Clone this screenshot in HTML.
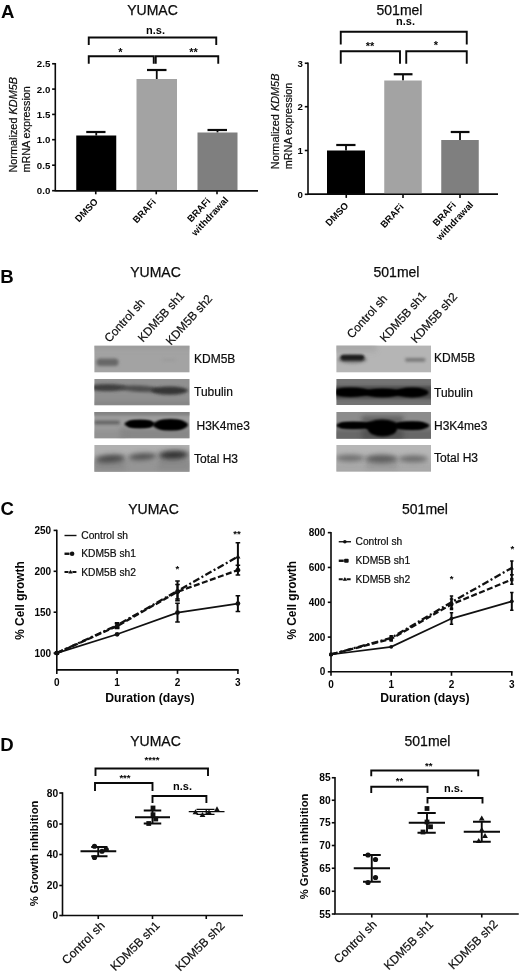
<!DOCTYPE html>
<html><head><meta charset="utf-8"><title>Figure</title>
<style>
html,body{margin:0;padding:0;background:#fff;}
body{width:520px;height:976px;overflow:hidden;}
svg{display:block;filter:blur(0.4px);font-family:"Liberation Sans",sans-serif;fill:#1a1a1a;}
.b{font-weight:bold}
.pl{font-size:18.6px;font-weight:bold;fill:#050505}
.tt{font-size:14px;text-anchor:middle;fill:#0a0a0a;stroke:#0a0a0a;stroke-width:.25}
.ax{stroke:#0a0a0a;stroke-width:1.6;fill:none}
.br{stroke:#0a0a0a;stroke-width:1.9;fill:none}
.tk{font-size:9.7px;font-weight:bold;text-anchor:end;fill:#050505}
.tkm{font-size:10px;font-weight:bold;text-anchor:middle;fill:#050505}
.st{font-size:11px;font-weight:bold;text-anchor:middle;fill:#050505}
.st2{font-size:9.6px;font-weight:bold;text-anchor:middle;fill:#050505}
</style></head><body>
<svg width="520" height="976" viewBox="0 0 520 976">
<defs>
<filter id="b1" x="-30%" y="-150%" width="160%" height="400%"><feGaussianBlur stdDeviation="1.2"/></filter>
<filter id="b2" x="-30%" y="-150%" width="160%" height="400%"><feGaussianBlur stdDeviation="1.8"/></filter>
<filter id="b3" x="-30%" y="-150%" width="160%" height="400%"><feGaussianBlur stdDeviation="2.5"/></filter>
</defs>
<rect width="520" height="976" fill="#fff"/>

<text x="152.5" y="15" class="tt" >YUMAC</text>
<path class="ax" d="M55.3 63.0V190.7H258"/>
<path class="ax" d="M52.099999999999994 63.75H55.3"/>
<text x="50.3" y="67.35" class="tk" >2.5</text>
<path class="ax" d="M52.099999999999994 89.1H55.3"/>
<text x="50.3" y="92.69999999999999" class="tk" >2.0</text>
<path class="ax" d="M52.099999999999994 114.4H55.3"/>
<text x="50.3" y="118.0" class="tk" >1.5</text>
<path class="ax" d="M52.099999999999994 139.7H55.3"/>
<text x="50.3" y="143.29999999999998" class="tk" >1.0</text>
<path class="ax" d="M52.099999999999994 165.2H55.3"/>
<text x="50.3" y="168.79999999999998" class="tk" >0.5</text>
<path class="ax" d="M52.099999999999994 190.7H55.3"/>
<text x="50.3" y="194.29999999999998" class="tk" >0.0</text>
<path class="ax" d="M96.25 135.5V132" style="stroke-width:1.8"/><path class="ax" d="M86.25 132H105.5" style="stroke-width:2.2"/>
<rect x="76.25" y="135.5" width="40.0" height="55.19999999999999" fill="#000"/>
<path class="ax" d="M156.75 79V70" style="stroke-width:1.8"/><path class="ax" d="M147 70H166.5" style="stroke-width:2.2"/>
<rect x="136.5" y="79" width="40.5" height="111.69999999999999" fill="#a3a3a3"/>
<path class="ax" d="M217.5 132.5V130" style="stroke-width:1.8"/><path class="ax" d="M207.5 130H227" style="stroke-width:2.2"/>
<rect x="197.5" y="132.5" width="40.0" height="58.19999999999999" fill="#7f7f7f"/>
<path class="ax" d="M55.3 190.7H258"/>
<path class="ax" d="M95.75 190.7V194.29999999999998"/>
<path class="ax" d="M156.25 190.7V194.29999999999998"/>
<path class="ax" d="M217 190.7V194.29999999999998"/>
<text transform="translate(17.3 172.6) rotate(-90)" style="font-size:10.9px;fill:#0d0d0d;stroke:#0d0d0d;stroke-width:.2">Normalized <tspan font-style="italic">KDM5B</tspan></text>
<text transform="translate(30 172.6) rotate(-90)" style="font-size:10.8px;fill:#0d0d0d;stroke:#0d0d0d;stroke-width:.2">mRNA expression</text>
<path class="br" d="M88.75 45V37.5H216.25V45"/>
<path class="br" d="M88.75 63.75V56.25H153.75V63.75"/>
<path class="br" d="M155.75 63.75V56.25H218.25V63.75"/>
<text x="155.5" y="33.75" class="st" >n.s.</text>
<text x="120.5" y="55.5" class="st" >*</text>
<text x="193.5" y="56" class="st" >**</text>
<text transform="translate(98.5 202) rotate(-47)" text-anchor="end" class="b" style="font-size:9.5px;fill:#050505">DMSO</text>
<text transform="translate(156.5 202.5) rotate(-47)" text-anchor="end" class="b" style="font-size:9.5px;fill:#050505">BRAFi</text>
<text transform="translate(211 201.5) rotate(-47)" text-anchor="end" class="b" style="font-size:9.5px;fill:#050505">BRAFi</text>
<text transform="translate(229 200.5) rotate(-47)" text-anchor="end" class="b" style="font-size:9.5px;fill:#050505">withdrawal</text>
<text x="399.5" y="14.5" class="tt" >501mel</text>
<path class="ax" d="M308 62.5V194.3H498"/>
<path class="ax" d="M304.8 63.25H308"/>
<text x="303" y="66.85" class="tk" >3</text>
<path class="ax" d="M304.8 106.7H308"/>
<text x="303" y="110.3" class="tk" >2</text>
<path class="ax" d="M304.8 150.5H308"/>
<text x="303" y="154.1" class="tk" >1</text>
<path class="ax" d="M304.8 194.3H308"/>
<text x="303" y="197.9" class="tk" >0</text>
<path class="ax" d="M346.0 150.5V145" style="stroke-width:1.8"/><path class="ax" d="M336.25 145H355.5" style="stroke-width:2.2"/>
<rect x="327" y="150.5" width="38" height="43.80000000000001" fill="#000"/>
<path class="ax" d="M403.0 80.5V74.25" style="stroke-width:1.8"/><path class="ax" d="M393.75 74.25H412.5" style="stroke-width:2.2"/>
<rect x="384.25" y="80.5" width="37.5" height="113.80000000000001" fill="#a3a3a3"/>
<path class="ax" d="M460.0 140V132" style="stroke-width:1.8"/><path class="ax" d="M450.75 132H469.5" style="stroke-width:2.2"/>
<rect x="441.25" y="140" width="37.5" height="54.30000000000001" fill="#7f7f7f"/>
<path class="ax" d="M308 194.3H498"/>
<path class="ax" d="M346.25 194.3V197.9"/>
<path class="ax" d="M403 194.3V197.9"/>
<path class="ax" d="M460 194.3V197.9"/>
<text transform="translate(278.7 169.2) rotate(-90)" style="font-size:10.9px;fill:#0d0d0d;stroke:#0d0d0d;stroke-width:.2">Normalized <tspan font-style="italic">KDM5B</tspan></text>
<text transform="translate(292 169.2) rotate(-90)" style="font-size:10.8px;fill:#0d0d0d;stroke:#0d0d0d;stroke-width:.2">mRNA expression</text>
<path class="br" d="M340.75 44.5V31.75H466.75V44.5"/>
<path class="br" d="M340.75 63.75V51.25H400V63.75"/>
<path class="br" d="M406.25 63.75V51.25H466.75V63.75"/>
<text x="405.5" y="25" class="st" >n.s.</text>
<text x="370" y="49.8" class="st" >**</text>
<text x="436" y="49" class="st" >*</text>
<text transform="translate(349 206) rotate(-47)" text-anchor="end" class="b" style="font-size:9.5px;fill:#050505">DMSO</text>
<text transform="translate(404.2 207.2) rotate(-47)" text-anchor="end" class="b" style="font-size:9.5px;fill:#050505">BRAFi</text>
<text transform="translate(456.5 205.5) rotate(-47)" text-anchor="end" class="b" style="font-size:9.5px;fill:#050505">BRAFi</text>
<text transform="translate(473.8 205.2) rotate(-47)" text-anchor="end" class="b" style="font-size:9.5px;fill:#050505">withdrawal</text>
<text x="1" y="18.2" class="pl" >A</text>
<text x="0.2" y="282.6" class="pl" >B</text>
<text x="0.5" y="514.9" class="pl" >C</text>
<text x="0.2" y="750.6" class="pl" >D</text>
<text x="155.5" y="277" class="tt" >YUMAC</text>
<text transform="translate(145.5 303) rotate(-48)" text-anchor="end" style="font-size:11.8px;fill:#0d0d0d;stroke:#0d0d0d;stroke-width:.2">Control sh</text>
<text transform="translate(185 296) rotate(-48)" text-anchor="end" style="font-size:11.8px;fill:#0d0d0d;stroke:#0d0d0d;stroke-width:.2">KDM5B sh1</text>
<text transform="translate(213 299) rotate(-48)" text-anchor="end" style="font-size:11.8px;fill:#0d0d0d;stroke:#0d0d0d;stroke-width:.2">KDM5B sh2</text>
<clipPath id="cb1"><rect x="94.4" y="345.7" width="95.1" height="26.6"/></clipPath>
<rect x="94.4" y="345.7" width="95.1" height="26.6" fill="#a3a3a3"/>
<g clip-path="url(#cb1)">
<rect x="89.4" y="343" width="105.1" height="6" fill="#9a9a9a" opacity="0.7" filter="url(#b3)"/>
<rect x="96.5" y="358.6" width="22.0" height="7.4" rx="3.5" fill="#686868" opacity="1" filter="url(#b2)"/>
<rect x="162" y="358.0" width="14" height="4" rx="2.0" fill="#9c9c9c" opacity="0.8" filter="url(#b2)"/>
</g>
<clipPath id="cb2"><rect x="94.4" y="379" width="95.1" height="26.2"/></clipPath>
<rect x="94.4" y="379" width="95.1" height="26.2" fill="#909090"/>
<g clip-path="url(#cb2)">
<ellipse cx="107.5" cy="387.6" rx="19.5" ry="3.7" fill="#404040" opacity="1" filter="url(#b2)"/>
<ellipse cx="140.0" cy="388.8" rx="20.0" ry="3.2" fill="#4e4e4e" opacity="1" filter="url(#b2)" transform="rotate(3 140.0 388.8)"/>
<ellipse cx="169.5" cy="390.6" rx="18.5" ry="4.1" fill="#363636" opacity="1" filter="url(#b2)"/>
<rect x="89.4" y="401" width="105.1" height="7" fill="#808080" opacity="0.6" filter="url(#b3)"/>
</g>
<clipPath id="cb3"><rect x="94.4" y="412" width="95.1" height="26.3"/></clipPath>
<rect x="94.4" y="412" width="95.1" height="26.3" fill="#9d9d9d"/>
<g clip-path="url(#cb3)">
<rect x="89.4" y="409" width="105.1" height="6.5" fill="#808080" opacity="0.9" filter="url(#b1)"/>
<rect x="120" y="428" width="72" height="13" fill="#777" opacity="0.55" filter="url(#b3)"/>
<rect x="90" y="430" width="35" height="11" fill="#888" opacity="0.5" filter="url(#b3)"/>
<rect x="94" y="420.7" width="26" height="3.6" rx="1.8" fill="#5a5a5a" opacity="0.95" filter="url(#b2)"/>
<ellipse cx="139.75" cy="424" rx="15.25" ry="4.2" fill="#000" opacity="1" filter="url(#b1)"/>
<rect x="128" y="421.0" width="24" height="6" rx="3.0" fill="#000" opacity="1" filter="url(#b1)"/>
<ellipse cx="170.5" cy="424.8" rx="17.5" ry="5.8" fill="#000" opacity="1" filter="url(#b1)"/>
<rect x="158" y="420.8" width="25" height="8" rx="4.0" fill="#000" opacity="1" filter="url(#b1)"/>
</g>
<clipPath id="cb4"><rect x="94.4" y="445" width="95.1" height="26.8"/></clipPath>
<rect x="94.4" y="445" width="95.1" height="26.8" fill="#b0b0b0"/>
<g clip-path="url(#cb4)">
<rect x="89.4" y="460" width="105.1" height="16" fill="#8c8c8c" opacity="0.75" filter="url(#b3)"/>
<rect x="95" y="456" width="30" height="14" fill="#808080" opacity="0.5" filter="url(#b3)"/>
<rect x="158" y="452" width="32" height="18" fill="#808080" opacity="0.5" filter="url(#b3)"/>
<ellipse cx="110.5" cy="458.8" rx="14.5" ry="3.7" fill="#4a4a4a" opacity="1" filter="url(#b3)" transform="rotate(-4 110.5 458.8)"/>
<ellipse cx="142.5" cy="456.8" rx="14.5" ry="3.5" fill="#505050" opacity="1" filter="url(#b3)" transform="rotate(-3 142.5 456.8)"/>
<ellipse cx="173.5" cy="455" rx="14.5" ry="4.2" fill="#303030" opacity="1" filter="url(#b3)" transform="rotate(-2 173.5 455)"/>
</g>
<text x="194" y="363" class=""  style="font-size:12px;fill:#0d0d0d;stroke:#0d0d0d;stroke-width:.2">KDM5B</text>
<text x="194" y="396" class=""  style="font-size:12px;fill:#0d0d0d;stroke:#0d0d0d;stroke-width:.2">Tubulin</text>
<text x="196.5" y="430" class=""  style="font-size:12px;fill:#0d0d0d;stroke:#0d0d0d;stroke-width:.2">H3K4me3</text>
<text x="194" y="462.5" class=""  style="font-size:12px;fill:#0d0d0d;stroke:#0d0d0d;stroke-width:.2">Total H3</text>
<text x="396.5" y="277" class="tt" >501mel</text>
<text transform="translate(388 299) rotate(-48)" text-anchor="end" style="font-size:11.8px;fill:#0d0d0d;stroke:#0d0d0d;stroke-width:.2">Control sh</text>
<text transform="translate(427 296) rotate(-48)" text-anchor="end" style="font-size:11.8px;fill:#0d0d0d;stroke:#0d0d0d;stroke-width:.2">KDM5B sh1</text>
<text transform="translate(458 297) rotate(-48)" text-anchor="end" style="font-size:11.8px;fill:#0d0d0d;stroke:#0d0d0d;stroke-width:.2">KDM5B sh2</text>
<clipPath id="cb5"><rect x="336.4" y="345.6" width="94.6" height="26.7"/></clipPath>
<rect x="336.4" y="345.6" width="94.6" height="26.7" fill="#b5b5b5"/>
<g clip-path="url(#cb5)">
<rect x="331.4" y="343" width="45.0" height="9" fill="#a0a0a0" opacity="0.6" filter="url(#b3)"/>
<ellipse cx="352.5" cy="359.5" rx="14.5" ry="4.0" fill="#707070" opacity="0.8" filter="url(#b2)"/>
<rect x="340.5" y="354.8" width="23.80000000000001" height="5.6" rx="2.8" fill="#1c1c1c" opacity="1" filter="url(#b1)"/>
<rect x="405" y="358.2" width="20.5" height="3.2" rx="1.6" fill="#6c6c6c" opacity="0.95" filter="url(#b2)"/>
</g>
<clipPath id="cb6"><rect x="336.4" y="379" width="94.6" height="26"/></clipPath>
<rect x="336.4" y="379" width="94.6" height="26" fill="#747474"/>
<g clip-path="url(#cb6)">
<rect x="331.4" y="386" width="104.60000000000002" height="13" fill="#3a3a3a" opacity="0.7" filter="url(#b2)"/>
<ellipse cx="350.5" cy="392.2" rx="18.5" ry="4.8" fill="#000" opacity="1" filter="url(#b1)"/>
<ellipse cx="382.5" cy="393" rx="17.5" ry="4.2" fill="#000" opacity="1" filter="url(#b1)"/>
<ellipse cx="412.25" cy="392.5" rx="16.25" ry="4.9" fill="#000" opacity="1" filter="url(#b1)"/>
<rect x="338" y="389.85" width="84" height="5.5" rx="2.75" fill="#000" opacity="1" filter="url(#b1)"/>
</g>
<clipPath id="cb7"><rect x="336.4" y="412" width="94.6" height="26.7"/></clipPath>
<rect x="336.4" y="412" width="94.6" height="26.7" fill="#8c8c8c"/>
<g clip-path="url(#cb7)">
<rect x="331.4" y="429" width="104.60000000000002" height="16" fill="#5c5c5c" opacity="0.75" filter="url(#b3)"/>
<rect x="362" y="416" width="41" height="24" fill="#444" opacity="0.6" filter="url(#b3)"/>
<ellipse cx="353.5" cy="425.4" rx="17.5" ry="3.7" fill="#000" opacity="1" filter="url(#b1)"/>
<rect x="340" y="422.79999999999995" width="32" height="5.2" rx="2.6" fill="#000" opacity="1" filter="url(#b1)"/>
<ellipse cx="382.0" cy="426.3" rx="16.5" ry="6.75" fill="#000" opacity="1" filter="url(#b1)"/>
<ellipse cx="382.5" cy="429.8" rx="14.0" ry="6.75" fill="#000" opacity="1" filter="url(#b1)"/>
<ellipse cx="412.25" cy="425.6" rx="17.25" ry="4.3" fill="#000" opacity="1" filter="url(#b1)"/>
<rect x="396" y="422.8" width="28" height="5.6" rx="2.8" fill="#000" opacity="1" filter="url(#b1)"/>
</g>
<clipPath id="cb8"><rect x="336.4" y="445" width="94.6" height="26.6"/></clipPath>
<rect x="336.4" y="445" width="94.6" height="26.6" fill="#b6b6b6"/>
<g clip-path="url(#cb8)">
<rect x="331.4" y="462" width="104.60000000000002" height="14" fill="#a0a0a0" opacity="0.6" filter="url(#b3)"/>
<rect x="366" y="460" width="31" height="10" fill="#909090" opacity="0.5" filter="url(#b3)"/>
<ellipse cx="350.0" cy="458.1" rx="15.0" ry="3.3" fill="#6c6c6c" opacity="1" filter="url(#b3)"/>
<ellipse cx="381.5" cy="458.9" rx="16.5" ry="4.2" fill="#5c5c5c" opacity="1" filter="url(#b3)"/>
<ellipse cx="413.25" cy="458.9" rx="14.75" ry="3.3" fill="#686868" opacity="1" filter="url(#b3)"/>
</g>
<text x="434" y="362" class=""  style="font-size:12px;fill:#0d0d0d;stroke:#0d0d0d;stroke-width:.2">KDM5B</text>
<text x="434" y="396.5" class=""  style="font-size:12px;fill:#0d0d0d;stroke:#0d0d0d;stroke-width:.2">Tubulin</text>
<text x="434" y="430.4" class=""  style="font-size:12px;fill:#0d0d0d;stroke:#0d0d0d;stroke-width:.2">H3K4me3</text>
<text x="434" y="461.5" class=""  style="font-size:12px;fill:#0d0d0d;stroke:#0d0d0d;stroke-width:.2">Total H3</text>
<text x="153.5" y="513.75" class="tt" >YUMAC</text>
<path class="ax" d="M56.8 529.65V669.9H238.65"/>
<path class="ax" d="M53.599999999999994 530.4H56.8"/>
<text x="51.199999999999996" y="534.0" class="tk"  style="font-size:10px">250</text>
<path class="ax" d="M53.599999999999994 571.3H56.8"/>
<text x="51.199999999999996" y="574.9" class="tk"  style="font-size:10px">200</text>
<path class="ax" d="M53.599999999999994 612.2H56.8"/>
<text x="51.199999999999996" y="615.8000000000001" class="tk"  style="font-size:10px">150</text>
<path class="ax" d="M53.599999999999994 653.1H56.8"/>
<text x="51.199999999999996" y="656.7" class="tk"  style="font-size:10px">100</text>
<path class="ax" d="M56.8 669.9V673.9"/>
<text x="56.8" y="685.6" class="tkm" >0</text>
<path class="ax" d="M117.1 669.9V673.9"/>
<text x="117.1" y="685.6" class="tkm" >1</text>
<path class="ax" d="M177.5 669.9V673.9"/>
<text x="177.5" y="685.6" class="tkm" >2</text>
<path class="ax" d="M237.9 669.9V673.9"/>
<text x="237.9" y="685.6" class="tkm" >3</text>
<path d="M56.80 653.10L117.10 634.29L177.50 612.61L237.90 603.61" fill="none" stroke="#111" stroke-width="1.7" />
<circle cx="56.8" cy="653.10" r="2.4" fill="#111"/>
<circle cx="117.1" cy="634.29" r="2.4" fill="#111"/>
<path class="ax" d="M177.5 603.20V622.02" style="stroke-width:2"/><path class="ax" d="M175.2 603.20H179.8M175.2 622.02H179.8" style="stroke-width:1.5"/>
<circle cx="177.5" cy="612.61" r="2.4" fill="#111"/>
<path class="ax" d="M237.9 595.84V611.38" style="stroke-width:2"/><path class="ax" d="M235.6 595.84H240.20000000000002M235.6 611.38H240.20000000000002" style="stroke-width:1.5"/>
<circle cx="237.9" cy="603.61" r="2.4" fill="#111"/>
<path d="M56.80 653.10L117.10 626.11L177.50 591.75L237.90 570.07" fill="none" stroke="#111" stroke-width="2.3" stroke-dasharray="6 2.5"/>
<circle cx="56.8" cy="653.10" r="2.4" fill="#111"/>
<path class="ax" d="M117.1 623.65V628.56" style="stroke-width:2"/><path class="ax" d="M114.8 623.65H119.39999999999999M114.8 628.56H119.39999999999999" style="stroke-width:1.5"/>
<circle cx="117.1" cy="626.11" r="2.4" fill="#111"/>
<path class="ax" d="M177.5 584.39V599.11" style="stroke-width:2"/><path class="ax" d="M175.2 584.39H179.8M175.2 599.11H179.8" style="stroke-width:1.5"/>
<circle cx="177.5" cy="591.75" r="2.4" fill="#111"/>
<path class="ax" d="M237.9 565.17V574.98" style="stroke-width:2"/><path class="ax" d="M235.6 565.17H240.20000000000002M235.6 574.98H240.20000000000002" style="stroke-width:1.5"/>
<circle cx="237.9" cy="570.07" r="2.4" fill="#111"/>
<path d="M56.80 653.10L117.10 625.29L177.50 590.93L237.90 556.58" fill="none" stroke="#111" stroke-width="2.3" stroke-dasharray="7 2.5 2 2.5"/>
<path d="M56.8 650.50L59.4 655.10H54.199999999999996Z" fill="#111"/>
<path class="ax" d="M117.1 622.83V627.74" style="stroke-width:2"/><path class="ax" d="M114.8 622.83H119.39999999999999M114.8 627.74H119.39999999999999" style="stroke-width:1.5"/>
<path d="M117.1 622.69L119.69999999999999 627.29H114.5Z" fill="#111"/>
<path class="ax" d="M177.5 581.12V600.75" style="stroke-width:2"/><path class="ax" d="M175.2 581.12H179.8M175.2 600.75H179.8" style="stroke-width:1.5"/>
<path d="M177.5 588.33L180.1 592.93H174.9Z" fill="#111"/>
<path class="ax" d="M237.9 542.67V570.48" style="stroke-width:2"/><path class="ax" d="M235.6 542.67H240.20000000000002M235.6 570.48H240.20000000000002" style="stroke-width:1.5"/>
<path d="M237.9 553.98L240.5 558.58H235.3Z" fill="#111"/>
<text x="237" y="536.6" class="st2" >**</text>
<text x="177.3" y="572.4" class="st2" >*</text>
<path d="M64.5 535.5H76.5" fill="none" stroke="#111" stroke-width="1.4" />
<text x="81.25" y="539.0" class=""  style="font-size:10.25px;fill:#0d0d0d;stroke:#0d0d0d;stroke-width:.2">Control sh</text>
<path d="M64.5 553.75H76.5" fill="none" stroke="#111" stroke-width="2.4" stroke-dasharray="5 30"/>
<circle cx="72.1" cy="553.75" r="2.3" fill="#111"/>
<text x="81.25" y="557.25" class=""  style="font-size:10.25px;fill:#0d0d0d;stroke:#0d0d0d;stroke-width:.2">KDM5B sh1</text>
<path d="M64.5 572H76.5" fill="none" stroke="#111" stroke-width="2.2" stroke-dasharray="4 1.2 1.5 1.2"/>
<path d="M70.5 569.8L72.7 573.6H68.3Z" fill="#111"/>
<text x="81.25" y="575.5" class=""  style="font-size:10.25px;fill:#0d0d0d;stroke:#0d0d0d;stroke-width:.2">KDM5B sh2</text>
<text transform="translate(23.5 600.5) rotate(-90)" text-anchor="middle" class="b" style="font-size:11.9px;fill:#050505">% Cell growth</text>
<text x="150" y="702.2" class="b"  text-anchor="middle" style="font-size:12.2px;fill:#050505">Duration (days)</text>
<text x="425" y="513.75" class="tt" >501mel</text>
<path class="ax" d="M331 531.9V671.8H512.55"/>
<path class="ax" d="M327.8 532.65H331"/>
<text x="325.4" y="536.25" class="tk"  style="font-size:10px">800</text>
<path class="ax" d="M327.8 567.45H331"/>
<text x="325.4" y="571.0500000000001" class="tk"  style="font-size:10px">600</text>
<path class="ax" d="M327.8 602.3H331"/>
<text x="325.4" y="605.9" class="tk"  style="font-size:10px">400</text>
<path class="ax" d="M327.8 637.1H331"/>
<text x="325.4" y="640.7" class="tk"  style="font-size:10px">200</text>
<path class="ax" d="M327.8 671.8H331"/>
<text x="325.4" y="675.4" class="tk"  style="font-size:10px">0</text>
<path class="ax" d="M331 671.8V675.8"/>
<text x="331" y="687.5" class="tkm" >0</text>
<path class="ax" d="M391.2 671.8V675.8"/>
<text x="391.2" y="687.5" class="tkm" >1</text>
<path class="ax" d="M451.5 671.8V675.8"/>
<text x="451.5" y="687.5" class="tkm" >2</text>
<path class="ax" d="M511.8 671.8V675.8"/>
<text x="511.8" y="687.5" class="tkm" >3</text>
<path d="M331.00 654.48L391.20 646.82L451.50 618.59L511.80 601.35" fill="none" stroke="#111" stroke-width="1.7" />
<circle cx="331" cy="654.48" r="1.92" fill="#111"/>
<circle cx="391.2" cy="646.82" r="1.92" fill="#111"/>
<path class="ax" d="M451.5 612.85V624.34" style="stroke-width:2"/><path class="ax" d="M449.8 612.85H453.2M449.8 624.34H453.2" style="stroke-width:1.5"/>
<circle cx="451.5" cy="618.59" r="1.92" fill="#111"/>
<path class="ax" d="M511.8 592.46V610.23" style="stroke-width:2"/><path class="ax" d="M510.1 592.46H513.5M510.1 610.23H513.5" style="stroke-width:1.5"/>
<circle cx="511.8" cy="601.35" r="1.92" fill="#111"/>
<path d="M331.00 654.48L391.20 638.80L451.50 604.31L511.80 579.57" fill="none" stroke="#111" stroke-width="2.3" stroke-dasharray="6 2.5"/>
<rect x="329.32" y="652.80" width="3.3600000000000003" height="3.3600000000000003" fill="#111"/>
<path class="ax" d="M391.2 636.71V640.89" style="stroke-width:2"/><path class="ax" d="M389.5 636.71H392.9M389.5 640.89H392.9" style="stroke-width:1.5"/>
<rect x="389.52" y="637.12" width="3.3600000000000003" height="3.3600000000000003" fill="#111"/>
<path class="ax" d="M451.5 599.08V609.54" style="stroke-width:2"/><path class="ax" d="M449.8 599.08H453.2M449.8 609.54H453.2" style="stroke-width:1.5"/>
<rect x="449.82" y="602.63" width="3.3600000000000003" height="3.3600000000000003" fill="#111"/>
<path class="ax" d="M511.8 574.87V584.28" style="stroke-width:2"/><path class="ax" d="M510.1 574.87H513.5M510.1 584.28H513.5" style="stroke-width:1.5"/>
<rect x="510.12" y="577.89" width="3.3600000000000003" height="3.3600000000000003" fill="#111"/>
<path d="M331.00 654.48L391.20 637.93L451.50 602.22L511.80 567.90" fill="none" stroke="#111" stroke-width="2.3" stroke-dasharray="7 2.5 2 2.5"/>
<path d="M331 652.40L333.08 656.08H328.92Z" fill="#111"/>
<path class="ax" d="M391.2 635.84V640.02" style="stroke-width:2"/><path class="ax" d="M389.5 635.84H392.9M389.5 640.02H392.9" style="stroke-width:1.5"/>
<path d="M391.2 635.85L393.28 639.53H389.12Z" fill="#111"/>
<path class="ax" d="M451.5 596.12V608.32" style="stroke-width:2"/><path class="ax" d="M449.8 596.12H453.2M449.8 608.32H453.2" style="stroke-width:1.5"/>
<path d="M451.5 600.14L453.58 603.82H449.42Z" fill="#111"/>
<path class="ax" d="M511.8 560.93V574.87" style="stroke-width:2"/><path class="ax" d="M510.1 560.93H513.5M510.1 574.87H513.5" style="stroke-width:1.5"/>
<path d="M511.8 565.82L513.88 569.50H509.72Z" fill="#111"/>
<text x="512.3" y="552.4" class="st2" >*</text>
<text x="451.6" y="582.1" class="st2" >*</text>
<path d="M338.75 541.75H351" fill="none" stroke="#111" stroke-width="1.4" />
<circle cx="344.875" cy="541.75" r="1.8" fill="#111"/>
<text x="355.5" y="545.25" class=""  style="font-size:10.25px;fill:#0d0d0d;stroke:#0d0d0d;stroke-width:.2">Control sh</text>
<path d="M338.75 560.75H351" fill="none" stroke="#111" stroke-width="2.4" stroke-dasharray="5 30"/>
<rect x="344.075" y="558.75" width="4.6" height="4" rx="1" fill="#111"/>
<text x="355.5" y="564.25" class=""  style="font-size:10.25px;fill:#0d0d0d;stroke:#0d0d0d;stroke-width:.2">KDM5B sh1</text>
<path d="M338.75 579.25H351" fill="none" stroke="#111" stroke-width="2.2" stroke-dasharray="4 1.2 1.5 1.2"/>
<path d="M344.875 577.05L347.075 580.85H342.675Z" fill="#111"/>
<text x="355.5" y="582.75" class=""  style="font-size:10.25px;fill:#0d0d0d;stroke:#0d0d0d;stroke-width:.2">KDM5B sh2</text>
<text transform="translate(296.3 600.3) rotate(-90)" text-anchor="middle" class="b" style="font-size:11.9px;fill:#050505">% Cell growth</text>
<text x="425" y="702.2" class="b"  text-anchor="middle" style="font-size:12.2px;fill:#050505">Duration (days)</text>
<text x="155.5" y="745.5" class="tt" >YUMAC</text>
<path class="ax" d="M62.5 792.25V915.5H243"/>
<path class="ax" d="M59.3 793H62.5"/>
<text x="58.2" y="796.7" class="tk"  style="font-size:10.2px">80</text>
<path class="ax" d="M59.3 824H62.5"/>
<text x="58.2" y="827.7" class="tk"  style="font-size:10.2px">60</text>
<path class="ax" d="M59.3 854.5H62.5"/>
<text x="58.2" y="858.2" class="tk"  style="font-size:10.2px">40</text>
<path class="ax" d="M59.3 885.5H62.5"/>
<text x="58.2" y="889.2" class="tk"  style="font-size:10.2px">20</text>
<path class="ax" d="M59.3 915.5H62.5"/>
<text x="58.2" y="919.2" class="tk"  style="font-size:10.2px">0</text>
<path class="ax" d="M98.25 915.5V919.0"/>
<path class="ax" d="M152.5 915.5V919.0"/>
<path class="ax" d="M206.25 915.5V919.0"/>
<path class="ax" d="M80.5 851.25H116.25M98.25 847V856.25M91.25 847H107.5M91.25 856.25H107.5" style="stroke-width:1.9"/>
<circle cx="94.5" cy="846.25" r="2.6" fill="#111"/>
<circle cx="106.25" cy="849.5" r="2.6" fill="#111"/>
<circle cx="102" cy="851.25" r="2.6" fill="#111"/>
<circle cx="94.5" cy="857.5" r="2.6" fill="#111"/>
<path class="ax" d="M135 817.25H170M152.5 810.5V823.5M143.75 810.5H161.25M143.75 823.5H161.25" style="stroke-width:1.9"/>
<rect x="150.6" y="805.6" width="4.8" height="4.8" fill="#111"/>
<rect x="150.6" y="812.35" width="4.8" height="4.8" fill="#111"/>
<rect x="153.35" y="816.6" width="4.8" height="4.8" fill="#111"/>
<rect x="146.35" y="821.1" width="4.8" height="4.8" fill="#111"/>
<path class="ax" d="M188.75 811.7H224.5M206.25 809.4V814.3M196.5 809.4H214.5M196.5 814.3H214.5" style="stroke-width:1.3"/>
<path d="M217 806.3L219.9 811.4H214.1Z" fill="#111"/>
<path d="M195.5 809.2L198.4 814.3000000000001H192.6Z" fill="#111"/>
<path d="M202.5 812L205.4 817.1H199.6Z" fill="#111"/>
<path d="M209 809.4L211.9 814.5H206.1Z" fill="#111"/>
<path class="br" d="M95.5 776V768.5H208V776"/>
<path class="br" d="M95 791V783H152.5V791"/>
<path class="br" d="M152.5 803V796H206.4V803"/>
<text x="152" y="763" class="st2" >****</text>
<text x="125" y="780.7" class="st2" >***</text>
<text x="182.5" y="789.75" class="b"  text-anchor="middle" style="font-size:11px;fill:#050505">n.s.</text>
<text transform="translate(105.5 926.3) rotate(-45)" text-anchor="end" style="font-size:12px;fill:#0d0d0d;stroke:#0d0d0d;stroke-width:.2">Control sh</text>
<text transform="translate(160.5 926.3) rotate(-45)" text-anchor="end" style="font-size:12px;fill:#0d0d0d;stroke:#0d0d0d;stroke-width:.2">KDM5B sh1</text>
<text transform="translate(225.5 926.5) rotate(-45)" text-anchor="end" style="font-size:12px;fill:#0d0d0d;stroke:#0d0d0d;stroke-width:.2">KDM5B sh2</text>
<text transform="translate(37.5 853.5) rotate(-90)" text-anchor="middle" class="b" style="font-size:11.2px;fill:#050505">% Growth inhibition</text>
<text x="427.5" y="745.5" class="tt" >501mel</text>
<path class="ax" d="M335 777.0V914H518.75"/>
<path class="ax" d="M331.8 777.75H335"/>
<text x="330.7" y="781.45" class="tk"  style="font-size:10.2px">85</text>
<path class="ax" d="M331.8 800.25H335"/>
<text x="330.7" y="803.95" class="tk"  style="font-size:10.2px">80</text>
<path class="ax" d="M331.8 822.75H335"/>
<text x="330.7" y="826.45" class="tk"  style="font-size:10.2px">75</text>
<path class="ax" d="M331.8 845.5H335"/>
<text x="330.7" y="849.2" class="tk"  style="font-size:10.2px">70</text>
<path class="ax" d="M331.8 868.25H335"/>
<text x="330.7" y="871.95" class="tk"  style="font-size:10.2px">65</text>
<path class="ax" d="M331.8 891.25H335"/>
<text x="330.7" y="894.95" class="tk"  style="font-size:10.2px">60</text>
<path class="ax" d="M331.8 914H335"/>
<text x="330.7" y="917.7" class="tk"  style="font-size:10.2px">55</text>
<path class="ax" d="M371.75 914V917.5"/>
<path class="ax" d="M427 914V917.5"/>
<path class="ax" d="M481.75 914V917.5"/>
<path class="ax" d="M353.75 868.25H390M371.75 855V881.75M363 855H380.75M363 881.75H380.75" style="stroke-width:1.9"/>
<circle cx="368" cy="855" r="2.6" fill="#111"/>
<circle cx="375.5" cy="859.5" r="2.6" fill="#111"/>
<circle cx="375.5" cy="877.5" r="2.6" fill="#111"/>
<circle cx="368" cy="882.5" r="2.6" fill="#111"/>
<path class="ax" d="M408.75 822.75H445M427 813V832.75M417.5 813H435.75M417.5 832.75H435.75" style="stroke-width:1.9"/>
<rect x="424.6" y="806.1" width="4.8" height="4.8" fill="#111"/>
<rect x="424.6" y="819.6" width="4.8" height="4.8" fill="#111"/>
<rect x="428.1" y="824.35" width="4.8" height="4.8" fill="#111"/>
<rect x="420.6" y="829.6" width="4.8" height="4.8" fill="#111"/>
<path class="ax" d="M463.75 831.75H500M481.75 821.75V841.75M473 821.75H490.75M473 841.75H490.75" style="stroke-width:1.9"/>
<path d="M481.75 815.5L484.65 820.6H478.85Z" fill="#111"/>
<path d="M485 833L487.9 838.1H482.1Z" fill="#111"/>
<path d="M478.75 838L481.65 843.1H475.85Z" fill="#111"/>
<path d="M481.75 827L484.65 832.1H478.85Z" fill="#111"/>
<path class="br" d="M371.25 776.3V770.5H478.25V776.3"/>
<path class="br" d="M371.25 793V786.75H427.5V793"/>
<path class="br" d="M427.5 803.5V798H482.5V803.5"/>
<text x="428.75" y="769.4" class="st2" >**</text>
<text x="399.5" y="783.9" class="st2" >**</text>
<text x="453.5" y="792.2" class="b"  text-anchor="middle" style="font-size:11px;fill:#050505">n.s.</text>
<text transform="translate(377.5 925.3) rotate(-45)" text-anchor="end" style="font-size:12px;fill:#0d0d0d;stroke:#0d0d0d;stroke-width:.2">Control sh</text>
<text transform="translate(434 925.3) rotate(-45)" text-anchor="end" style="font-size:12px;fill:#0d0d0d;stroke:#0d0d0d;stroke-width:.2">KDM5B sh1</text>
<text transform="translate(498.5 924.8) rotate(-45)" text-anchor="end" style="font-size:12px;fill:#0d0d0d;stroke:#0d0d0d;stroke-width:.2">KDM5B sh2</text>
<text transform="translate(308 846.5) rotate(-90)" text-anchor="middle" class="b" style="font-size:11.2px;fill:#050505">% Growth inhibition</text>
</svg></body></html>
